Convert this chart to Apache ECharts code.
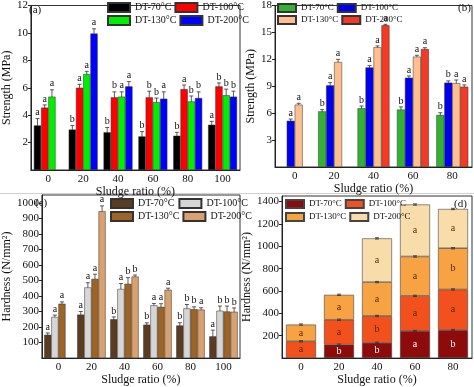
<!DOCTYPE html>
<html><head><meta charset="utf-8">
<script src="https://cdn.jsdelivr.net/npm/echarts@6/dist/echarts.min.js"></script>
<style>html,body{margin:0;padding:0;background:#fff}#c{width:474px;height:387px}</style>
</head><body><div id="c"></div>
<script>
// ---------- data ----------
const catsA = ['0','20','40','60','80','100'];
const catsB = ['0','20','40','60','80'];
const catsC = ['0','20','40','60','80','100'];
const catsD = ['0','20','40','60','80'];
const tempNames = ['DT-70°C','DT-100°C','DT-130°C','DT-200°C'];

// (a) strength
const a70 = [3.25, 2.95, 2.75, 2.45, 2.5, 3.3];
const a100 = [4.55, 6.0, 5.3, 5.3, 5.9, 6.1];
const a130 = [5.35, 7.0, 5.35, 4.95, 5.0, 5.45];
const a200 = [null, 9.95, 6.1, 5.2, 5.25, 5.35];
const a70Err = [0.5, 0.3, 0.35, 0.35, 0.25, 0.25];
const a100Err = [0.2, 0.25, 0.4, 0.45, 0.3, 0.25];
const a130Err = [0.5, 0.2, 0.35, 0.3, 0.4, 0.45];
const a200Err = [0, 0.35, 0.35, 0.5, 0.45, 0.4];
const a70Let = ['a','b','b','b','b','a'];
const a100Let = ['a','a','b','b','a','b'];
const a130Let = ['a','a','a','b','b','b'];
const a200Let = ['','a','a','a','b','b'];

// (b) strength
const b70 = [null, 6.2, 6.55, 6.4, 5.8];
const b100 = [5.15, 9.1, 11.1, 9.95, 9.4];
const b130 = [6.95, 11.7, 13.35, 12.3, 9.35];
const b200 = [null, null, 15.8, 13.15, 8.95];
const b70Err = [0, 0.2, 0.25, 0.3, 0.25];
const b100Err = [0.2, 0.3, 0.2, 0.2, 0.2];
const b130Err = [0.15, 0.3, 0.15, 0.15, 0.35];
const b200Err = [0, 0, 0.1, 0.15, 0.2];
const b70Let = ['','b','b','b','b'];
const b100Let = ['a','a','a','a','b'];
const b130Let = ['a','a','a','a','a'];
const b200Let = ['','','a','a','a'];

// (c) hardness
const c70 = [150, 280, 250, 215, 210, 140];
const c100 = [265, 455, 445, 340, 320, 305];
const c130 = [350, 510, 478, 330, 315, 300];
const c200 = [null, 945, 525, 440, 312, 298];
const c70Err = [12, 20, 15, 12, 18, 40];
const c100Err = [12, 30, 35, 12, 25, 30];
const c130Err = [12, 30, 40, 20, 15, 35];
const c200Err = [0, 35, 10, 10, 12, 25];
const c70Let = ['a','a','b','b','b','a'];
const c100Let = ['a','a','a','a','b','b'];
const c130Let = ['a','a','b','a','b','b'];
const c200Let = ['','a','b','a','a','b'];

// (d) hardness, stacked
const d70 = [null, 120, 137, 243, 251];
const d100 = [150, 223, 240, 314, 363];
const d130 = [150, 223, 303, 352, 369];
const d200 = [null, null, 391, 465, 351];
const dErr = 6;
const d70Let = ['','b','b','a','b'];
const d100Let = ['a','a','b','a','a'];
const d130Let = ['a','a','a','a','b'];
const d200Let = ['','','a','a','a'];

// ---------- styling ----------
const FONT = 'Liberation Serif';
const colA = ['#000000','#ff0000','#00ee00','#0000ff'];
const colB = ['#33b133','#0000ee','#fdbf8f','#f43a26'];
const colC = ['#5b3c22','#d6d6d6','#9c6427','#d9a070'];
const colD = ['#8e0b0b','#f2511d','#f8a343','#f8dcaa'];

const grids = [
  {left: 24, width: 216, top: 4, height: 166},
  {left: 275, width: 197, top: 4, height: 163},
  {left: 30, width: 210, top: 195, height: 169},
  {left: 282, width: 190, top: 196, height: 169}
].map(g => Object.assign(g, {show: true, borderColor: '#333', borderWidth: 1, backgroundColor: 'transparent'}));

function xAx(gi, cats, gap) {
  return {
    type: 'category', gridIndex: gi, data: cats,
    name: 'Sludge ratio (%)', nameLocation: 'middle', nameGap: gap,
    nameTextStyle: {fontFamily: FONT, fontSize: 12, color: '#111'},
    axisLine: {lineStyle: {color: '#222', width: 1}},
    axisTick: {alignWithLabel: true, length: 3, lineStyle: {color: '#222'}},
    axisLabel: {fontFamily: FONT, fontSize: 11, color: '#111', margin: 4}
  };
}
function yAx(gi, name, max, interval, gap) {
  return {
    type: 'value', gridIndex: gi, min: 0, max: max, interval: interval,
    name: name, nameLocation: 'middle', nameGap: gap,
    nameTextStyle: {fontFamily: FONT, fontSize: 12, color: '#111'},
    axisLine: {show: true, lineStyle: {color: '#222', width: 1}},
    axisTick: {show: true, length: 3, lineStyle: {color: '#222'}},
    axisLabel: {fontFamily: FONT, fontSize: 11, color: '#111', margin: 3, showMinLabel: false,
      showMaxLabel: max % interval === 0, formatter: v => String(v)},
    splitLine: {show: false}
  };
}

const series = [];
function uname(p, i) { return p + '|' + tempNames[i]; }

function addGrouped(p, gi, vals, errs, lets, cols, gapRatio, gapStr) {
  const n = vals.length;
  vals.forEach((v, k) => {
    series.push({
      type: 'bar', name: uname(p, k), xAxisIndex: gi, yAxisIndex: gi,
      data: v, barGap: '0%', barCategoryGap: gapStr,
      itemStyle: {color: cols[k], borderColor: '#333', borderWidth: 0.5},
      emphasis: {disabled: true}, animation: false
    });
  });
  vals.forEach((v, k) => {
    const e = errs[k], L = lets[k];
    series.push({
      type: 'custom', xAxisIndex: gi, yAxisIndex: gi, silent: true, animation: false,
      data: v.map((val, i) => [i, val == null ? NaN : val, e[i]]),
      renderItem: function (params, api) {
        const val = api.value(1);
        if (isNaN(val)) return null;
        const ee = api.value(2);
        const i = api.value(0);
        const bandW = api.size([1, 0])[0];
        const bw = bandW * (1 - gapRatio) / n;
        const cx = api.coord([i, val])[0] + (k - (n - 1) / 2) * bw;
        const yT = api.coord([i, val + ee])[1];
        const yB = api.coord([i, val - ee])[1];
        const cap = 2;
        const st = {stroke: '#333', lineWidth: 0.8};
        return {type: 'group', children: [
          {type: 'line', shape: {x1: cx, y1: yT, x2: cx, y2: yB}, style: st},
          {type: 'line', shape: {x1: cx - cap, y1: yT, x2: cx + cap, y2: yT}, style: st},
          {type: 'line', shape: {x1: cx - cap, y1: yB, x2: cx + cap, y2: yB}, style: st},
          {type: 'text', x: cx, y: yT - 1, style: {text: L[params.dataIndex], fontFamily: FONT, fontSize: 10, fill: '#111', align: 'center', verticalAlign: 'bottom'}}
        ]};
      }
    });
  });
}

addGrouped('a', 0, [a70, a100, a130, a200], [a70Err, a100Err, a130Err, a200Err], [a70Let, a100Let, a130Let, a200Let], colA, 0.17, '17%');
addGrouped('b', 1, [b70, b100, b130, b200], [b70Err, b100Err, b130Err, b200Err], [b70Let, b100Let, b130Let, b200Let], colB, 0.19, '19%');
addGrouped('c', 2, [c70, c100, c130, c200], [c70Err, c100Err, c130Err, c200Err], [c70Let, c100Let, c130Let, c200Let], colC, 0.14, '14%');

// (d) stacked
const dVals = [d70, d100, d130, d200];
const dLets = [d70Let, d100Let, d130Let, d200Let];
dVals.forEach((v, k) => {
  series.push({
    type: 'bar', name: uname('d', k), xAxisIndex: 3, yAxisIndex: 3, stack: 'd',
    data: v, barWidth: 30,
    itemStyle: {color: colD[k], borderColor: '#444', borderWidth: 0.6},
    label: {show: true, position: 'inside', fontFamily: FONT, fontSize: 10,
      color: k === 0 ? '#fff' : '#5a2a08',
      formatter: p => dLets[k][p.dataIndex]},
    emphasis: {disabled: true}, animation: false
  });
});
// error caps at the top of each stacked segment
const dTops = [];
catsD.forEach((c, i) => {
  let cum = 0;
  dVals.forEach(v => { if (v[i] != null) { cum += v[i]; dTops.push([i, cum, dErr]); } });
});
series.push({
  type: 'custom', xAxisIndex: 3, yAxisIndex: 3, silent: true, animation: false, data: dTops, z: 5,
  renderItem: function (params, api) {
    const i = api.value(0), v = api.value(1), e = api.value(2);
    const cx = api.coord([i, v])[0];
    const yT = api.coord([i, v + e])[1], yB = api.coord([i, v - e])[1];
    const st = {stroke: '#333', lineWidth: 0.8};
    return {type: 'group', children: [
      {type: 'line', shape: {x1: cx, y1: yT, x2: cx, y2: yB}, style: st},
      {type: 'line', shape: {x1: cx - 2, y1: yT, x2: cx + 2, y2: yT}, style: st},
      {type: 'line', shape: {x1: cx - 2, y1: yB, x2: cx + 2, y2: yB}, style: st}
    ]};
  }
});

function legend(p, idx, left, top, fs, iw, ih, gap) {
  return {
    data: idx.map(i => uname(p, i)), left: left, top: top, orient: 'horizontal',
    itemWidth: iw, itemHeight: ih, itemGap: gap, padding: 0, icon: 'rect', selectedMode: false,
    textStyle: {fontFamily: FONT, fontSize: fs, color: '#111'},
    formatter: n => n.split('|')[1]
  };
}

const option = {
  backgroundColor: '#fff',
  animation: false,
  grid: grids,
  xAxis: [xAx(0, catsA, 12), xAx(1, catsB, 14), xAx(2, catsC, 13), xAx(3, catsD, 13)],
  yAxis: [
    yAx(0, 'Strength (MPa)', 12, 2, 11),
    yAx(1, 'Strength (MPa)', 18, 3, 16),
    yAx(2, 'Hardness (N/mm²)', 1050, 100, 22),
    yAx(3, 'Hardness (N/mm²)', 1450, 200, 23)
  ],
  legend: [
    legend('a', [0, 1], 107, 2, 10, 22, 9, 3),
    legend('a', [2, 3], 107, 15, 10, 22, 9, 3),
    legend('b', [0, 1], 277, 3, 9, 18, 8, 3),
    legend('b', [2, 3], 277, 15, 9, 18, 8, 3),
    legend('c', [0, 1], 110, 198, 10, 22, 9, 4),
    legend('c', [2, 3], 110, 211, 10, 22, 9, 3),
    legend('d', [0, 1], 285, 199, 9, 18, 8, 3),
    legend('d', [2, 3], 285, 212, 9, 18, 8, 3)
  ],
  graphic: [
    {type: 'line', shape: {x1: 0, y1: 193.5, x2: 474, y2: 193.5}, style: {stroke: '#d0d0d0', lineWidth: 1}, silent: true},
    {type: 'text', left: 29, top: 5, style: {text: '(a)', fontFamily: FONT, fontSize: 11, fill: '#111'}},
    {type: 'text', left: 458, top: 3, style: {text: '(b)', fontFamily: FONT, fontSize: 11, fill: '#111'}},
    {type: 'text', left: 35, top: 198, style: {text: '(c)', fontFamily: FONT, fontSize: 11, fill: '#111'}},
    {type: 'text', left: 454, top: 199, style: {text: '(d)', fontFamily: FONT, fontSize: 11, fill: '#111'}}
  ],
  series: series
};
const chart = echarts.init(document.getElementById('c'), null, {renderer: 'canvas'});
chart.setOption(option);
</script></body></html>
